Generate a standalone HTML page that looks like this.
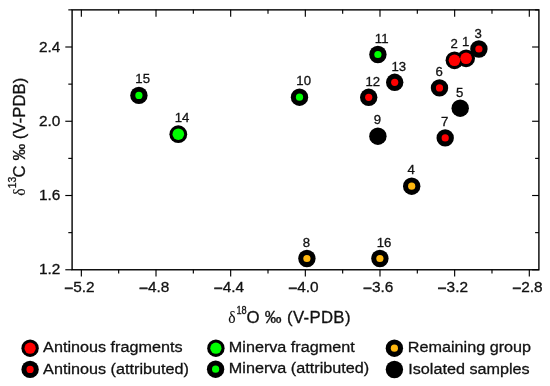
<!DOCTYPE html>
<html lang="en"><head><meta charset="utf-8"><title>Isotope plot</title>
<style>html,body{margin:0;padding:0;background:#fff}body{width:550px;height:386px;overflow:hidden}svg{display:block}text{font-family:"Liberation Sans", Arial, Helvetica, sans-serif;fill:#111;stroke:#111;stroke-width:0.3px}text.s{font-family:"Liberation Serif","Times New Roman",serif;stroke-width:0.1px}</style></head><body>
<svg width="550" height="386" viewBox="0 0 550 386">
<rect width="550" height="386" fill="#fff"/>
<g stroke="#000" stroke-width="1.4" fill="none" stroke-linecap="butt">
<rect x="72.10" y="9.87" width="466.80" height="259.90"/>
</g><g stroke="#000" stroke-width="1.15" fill="none">
<path d="M81.35 269.77v6.80"/>
<path d="M81.35 9.87v6.80"/>
<path d="M118.68 269.77v3.80"/>
<path d="M118.68 9.87v3.80"/>
<path d="M156.01 269.77v6.80"/>
<path d="M156.01 9.87v6.80"/>
<path d="M193.34 269.77v3.80"/>
<path d="M193.34 9.87v3.80"/>
<path d="M230.67 269.77v6.80"/>
<path d="M230.67 9.87v6.80"/>
<path d="M268.00 269.77v3.80"/>
<path d="M268.00 9.87v3.80"/>
<path d="M305.33 269.77v6.80"/>
<path d="M305.33 9.87v6.80"/>
<path d="M342.66 269.77v3.80"/>
<path d="M342.66 9.87v3.80"/>
<path d="M379.99 269.77v6.80"/>
<path d="M379.99 9.87v6.80"/>
<path d="M417.32 269.77v3.80"/>
<path d="M417.32 9.87v3.80"/>
<path d="M454.65 269.77v6.80"/>
<path d="M454.65 9.87v6.80"/>
<path d="M491.98 269.77v3.80"/>
<path d="M491.98 9.87v3.80"/>
<path d="M529.31 269.77v6.80"/>
<path d="M529.31 9.87v6.80"/>
<path d="M72.10 269.77h-6.80"/>
<path d="M538.90 269.77h-6.80"/>
<path d="M72.10 232.64h-3.80"/>
<path d="M538.90 232.64h-3.80"/>
<path d="M72.10 195.51h-6.80"/>
<path d="M538.90 195.51h-6.80"/>
<path d="M72.10 158.38h-3.80"/>
<path d="M538.90 158.38h-3.80"/>
<path d="M72.10 121.26h-6.80"/>
<path d="M538.90 121.26h-6.80"/>
<path d="M72.10 84.13h-3.80"/>
<path d="M538.90 84.13h-3.80"/>
<path d="M72.10 47.00h-6.80"/>
<path d="M538.90 47.00h-6.80"/>
<path d="M72.10 9.87h-3.80"/>
<path d="M538.90 9.87h-3.80"/>
</g>
<g font-size="14.74" text-anchor="middle">
<text transform="translate(79.5 292.0) scale(1.045 1)"><tspan dy="0.5" stroke-width="0.6">−</tspan><tspan dy="-0.5">5.2</tspan></text>
<text transform="translate(154.2 292.0) scale(1.045 1)"><tspan dy="0.5" stroke-width="0.6">−</tspan><tspan dy="-0.5">4.8</tspan></text>
<text transform="translate(228.9 292.0) scale(1.045 1)"><tspan dy="0.5" stroke-width="0.6">−</tspan><tspan dy="-0.5">4.4</tspan></text>
<text transform="translate(303.5 292.0) scale(1.045 1)"><tspan dy="0.5" stroke-width="0.6">−</tspan><tspan dy="-0.5">4.0</tspan></text>
<text transform="translate(378.2 292.0) scale(1.045 1)"><tspan dy="0.5" stroke-width="0.6">−</tspan><tspan dy="-0.5">3.6</tspan></text>
<text transform="translate(452.8 292.0) scale(1.045 1)"><tspan dy="0.5" stroke-width="0.6">−</tspan><tspan dy="-0.5">3.2</tspan></text>
<text transform="translate(527.5 292.0) scale(1.045 1)"><tspan dy="0.5" stroke-width="0.6">−</tspan><tspan dy="-0.5">2.8</tspan></text>
</g>
<g font-size="14.74" text-anchor="end">
<text transform="translate(60.3 274.4) scale(1.045 1)">1.2</text>
<text transform="translate(60.3 200.1) scale(1.045 1)">1.6</text>
<text transform="translate(60.3 125.9) scale(1.045 1)">2.0</text>
<text transform="translate(60.3 51.6) scale(1.045 1)">2.4</text>
</g>
<g transform="translate(228.3 322.6)" font-size="16.8"><text transform="translate(0.0 0) scale(0.95 1)" class="s" font-size="16.5">δ</text><text transform="translate(8.2 -8.5) scale(0.92 1)" font-size="10.0">18</text><text x="18.2" y="0" letter-spacing="0.33">O ‰ (V-PDB)</text></g>
<g transform="translate(25.2 194.9) rotate(-90)" font-size="16.8"><text transform="translate(-0.8 0) scale(0.95 1)" class="s" font-size="16.5">δ</text><text transform="translate(6.6 -9.7) scale(1.04 1)" font-size="10.0">13</text><text x="17.5" y="0" letter-spacing="0.00">C ‰ (V-PDB)</text></g>
<circle cx="138.9" cy="95.4" r="8.7" fill="#000"/>
<circle cx="178.3" cy="134.2" r="8.9" fill="#000"/>
<circle cx="299.5" cy="97.2" r="8.7" fill="#000"/>
<circle cx="377.9" cy="54.5" r="8.7" fill="#000"/>
<circle cx="368.7" cy="97.3" r="8.7" fill="#000"/>
<circle cx="394.7" cy="82.3" r="8.7" fill="#000"/>
<circle cx="377.9" cy="136.2" r="8.7" fill="#000"/>
<circle cx="411.7" cy="186.2" r="8.7" fill="#000"/>
<circle cx="306.9" cy="258.5" r="8.7" fill="#000"/>
<circle cx="379.9" cy="258.5" r="8.7" fill="#000"/>
<circle cx="445.2" cy="137.9" r="8.7" fill="#000"/>
<circle cx="460.2" cy="108.2" r="8.7" fill="#000"/>
<circle cx="439.5" cy="87.9" r="8.7" fill="#000"/>
<circle cx="454.5" cy="60.3" r="8.9" fill="#000"/>
<circle cx="466.1" cy="58.3" r="8.9" fill="#000"/>
<circle cx="478.9" cy="49.0" r="8.7" fill="#000"/>
<circle cx="138.9" cy="95.4" r="3.6" fill="#00ff00"/>
<circle cx="178.3" cy="134.2" r="5.8" fill="#00ff00"/>
<circle cx="299.5" cy="97.2" r="3.6" fill="#00ff00"/>
<circle cx="377.9" cy="54.5" r="3.6" fill="#00ff00"/>
<circle cx="368.7" cy="97.3" r="3.6" fill="#ff0000"/>
<circle cx="394.7" cy="82.3" r="3.6" fill="#ff0000"/>
<circle cx="411.7" cy="186.2" r="3.6" fill="#ffb70f"/>
<circle cx="306.9" cy="258.5" r="3.6" fill="#ffb70f"/>
<circle cx="379.9" cy="258.5" r="3.6" fill="#ffb70f"/>
<circle cx="445.2" cy="137.9" r="3.6" fill="#ff0000"/>
<circle cx="439.5" cy="87.9" r="3.6" fill="#ff0000"/>
<circle cx="454.5" cy="60.3" r="5.8" fill="#ff0000"/>
<circle cx="466.1" cy="58.3" r="5.8" fill="#ff0000"/>
<circle cx="478.9" cy="49.0" r="3.6" fill="#ff0000"/>
<g font-size="12.63">
<text transform="translate(135.3 83.0) scale(1.045 1)">15</text>
<text transform="translate(174.7 121.8) scale(1.045 1)">14</text>
<text transform="translate(296.3 85.4) scale(1.045 1)">10</text>
<text transform="translate(374.8 43.1) scale(1.045 1)">11</text>
<text transform="translate(365.5 85.5) scale(1.045 1)">12</text>
<text transform="translate(391.5 70.5) scale(1.045 1)">13</text>
<text transform="translate(373.8 124.4) scale(1.045 1)">9</text>
<text transform="translate(407.6 174.4) scale(1.045 1)">4</text>
<text transform="translate(302.8 246.7) scale(1.045 1)">8</text>
<text transform="translate(376.7 246.7) scale(1.045 1)">16</text>
<text transform="translate(441.1 126.1) scale(1.045 1)">7</text>
<text transform="translate(456.1 96.7) scale(1.045 1)">5</text>
<text transform="translate(435.4 76.1) scale(1.045 1)">6</text>
<text transform="translate(450.5 48.2) scale(1.045 1)">2</text>
<text transform="translate(461.9 46.2) scale(1.045 1)">1</text>
<text transform="translate(474.5 37.6) scale(1.045 1)">3</text>
</g>
<g font-size="15.50">
<circle cx="30.1" cy="348.2" r="8.7" fill="#000"/><circle cx="30.1" cy="348.2" r="5.6" fill="#ff0000"/>
<text transform="translate(43.1 352.3) scale(1.045 1)">Antinous fragments</text>
<circle cx="30.1" cy="369.4" r="8.7" fill="#000"/><circle cx="30.1" cy="369.4" r="3.6" fill="#ff0000"/>
<text transform="translate(43.1 373.5) scale(1.045 1)">Antinous (attributed)</text>
<circle cx="215.9" cy="348.2" r="8.7" fill="#000"/><circle cx="215.9" cy="348.2" r="5.6" fill="#00ff00"/>
<text transform="translate(228.8 352.3) scale(1.045 1)">Minerva fragment</text>
<circle cx="215.6" cy="369.2" r="8.7" fill="#000"/><circle cx="215.6" cy="369.2" r="3.6" fill="#00ff00"/>
<text transform="translate(228.8 373.3) scale(1.045 1)">Minerva (attributed)</text>
<circle cx="394.4" cy="348.2" r="8.7" fill="#000"/><circle cx="394.4" cy="348.2" r="3.6" fill="#ffb70f"/>
<text transform="translate(407.8 352.3) scale(1.045 1)">Remaining group</text>
<circle cx="394.4" cy="369.5" r="8.7" fill="#000"/>
<text transform="translate(408.2 373.6) scale(1.045 1)">Isolated samples</text>
</g>
</svg></body></html>
